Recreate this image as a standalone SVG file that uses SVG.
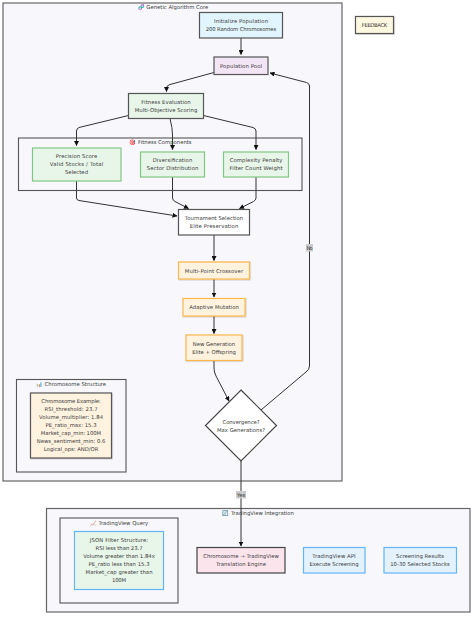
<svg xmlns="http://www.w3.org/2000/svg" width="474" height="617" viewBox="0 0 474 617">
<style>
text{font-family:"DejaVu Sans",sans-serif;font-size:5.3px;fill:#3a3a3a;text-anchor:middle}
.cl{fill:#f8f8fc;stroke:#666;stroke-width:1.2}
.sub{fill:none;stroke:#555;stroke-width:1.1}
.n{stroke-width:1.2}
.gr{fill:#e8f5e9;stroke:#555}
.lg{fill:#e8f5e9;stroke:#81c784}
.or{fill:#fff3e0;stroke:#ffb74d}
.bl{fill:#e3f2fd;stroke:#64b5f6}
.e{fill:none;stroke:#333;stroke-width:1}
.el{fill:#ccc;stroke:none}
</style>
<defs>
<marker id="a" viewBox="0 0 10 10" refX="9" refY="5" markerWidth="5" markerHeight="5" orient="auto"><path d="M0 0L10 5L0 10z" fill="#111"/></marker>
<filter id="s" x="-10%" y="-10%" width="125%" height="125%"><feDropShadow dx=".6" dy=".6" stdDeviation=".5" flood-opacity=".25"/></filter>
</defs>
<g id="cluster-core"><rect class="cl" x="3" y="3" width="339" height="478"/><text x="173" y="9">🧬 Genetic Algorithm Core</text></g>
<g id="cluster-tv"><rect class="cl" x="46.500" y="508.500" width="423.500" height="103.500"/><text x="258" y="514.500">🔄 TradingView Integration</text></g>
<g id="cluster-fitness"><rect class="sub" x="18.500" y="138" width="283.500" height="52.500"/><text x="160.500" y="144">🎯 Fitness Components</text></g>
<g id="cluster-chromosome"><rect class="sub" x="16.500" y="379.500" width="109.500" height="92.500"/><text x="71" y="385.500">📊 Chromosome Structure</text></g>
<g id="cluster-query"><rect class="sub" x="60" y="518" width="118" height="85"/><text x="119" y="524.500">📈 TradingView Query</text></g>
<g id="connectors">
<path class="e" marker-end="url(#a)" d="M241 38V54.500"/>
<path class="e" marker-end="url(#a)" d="M214 72.500L170 84.500Q166.500 85.500 166.500 88V91.500"/>
<path class="e" marker-end="url(#a)" d="M128.500 115.500L79 127.500Q76.500 128.500 76.500 131V145.500"/>
<path class="e" marker-end="url(#a)" d="M170 118.500Q172.500 128 172.500 135V149.500"/>
<path class="e" marker-end="url(#a)" d="M203.500 115.500L253 127.500Q256 128.500 256 131V149.500"/>
<path class="e" marker-end="url(#a)" d="M76.500 181V198Q76.500 200 79 200.500L177 216"/>
<path class="e" marker-end="url(#a)" d="M172.500 177V198Q172.500 200 175 201.500L188.500 208.500"/>
<path class="e" marker-end="url(#a)" d="M256 177V198Q256 200 253.500 201.500L239.500 208.500"/>
<path class="e" marker-end="url(#a)" d="M214 235V260.500"/>
<path class="e" marker-end="url(#a)" d="M214 279V297"/>
<path class="e" marker-end="url(#a)" d="M214 316V333.500"/>
<path class="e" marker-end="url(#a)" d="M214 360.500V368Q214 372 216 376L229 401"/>
<path class="e" marker-end="url(#a)" d="M261 410L306 372Q309.500 369.500 309.500 366V86Q309.500 83.500 306.500 82.500L270 73"/>
<path class="e" marker-end="url(#a)" d="M241 461V546"/>
</g>
<g id="edge-no"><rect class="el" x="306" y="244" width="7" height="7.500"/><text x="309.500" y="250" textLength="6">No</text></g>
<g id="edge-yes"><rect class="el" x="236" y="491" width="10" height="7.500"/><text x="241" y="497" textLength="8.500">Yes</text></g>
<g id="init"><rect class="n" x="199.500" y="12.500" width="83" height="25.500" fill="#e1f5fe" stroke="#555"/><text x="241" y="23" textLength="54">Initialize Population</text><text x="241" y="31" textLength="70.300">200 Random Chromosomes</text></g>
<g id="pool"><rect class="n" x="214" y="57" width="54" height="17.500" fill="#f3e5f5" stroke="#555"/><text x="241" y="67.500" textLength="42">Population Pool</text></g>
<g id="fitness"><rect class="n gr" x="128.500" y="93.500" width="75" height="25"/><text x="166" y="104" textLength="49.300">Fitness Evaluation</text><text x="166" y="112" textLength="62.700">Multi-Objective Scoring</text></g>
<g id="precision"><rect class="n lg" x="32.500" y="148" width="88.500" height="33"/><text x="76.500" y="158" textLength="41.300">Precision Score</text><text x="76.500" y="166" textLength="53.300">Valid Stocks / Total</text><text x="76.500" y="174" textLength="23">Selected</text></g>
<g id="diversification"><rect class="n lg" x="140.500" y="152" width="64" height="25"/><text x="172.500" y="162" textLength="39.700">Diversification</text><text x="172.500" y="170" textLength="51.700">Sector Distribution</text></g>
<g id="complexity"><rect class="n lg" x="223.500" y="152" width="65" height="25"/><text x="256" y="162" textLength="52.700">Complexity Penalty</text><text x="256" y="170" textLength="53">Filter Count Weight</text></g>
<g id="tournament"><rect class="n" x="178.500" y="209.500" width="71" height="25.500" fill="#fff" stroke="#555"/><text x="214" y="220" textLength="58.300">Tournament Selection</text><text x="214" y="228" textLength="48.700">Elite Preservation</text></g>
<g id="crossover"><rect class="n or" x="178.500" y="262" width="71" height="17" filter="url(#s)"/><text x="214" y="272.500" textLength="58.300">Multi-Point Crossover</text></g>
<g id="mutation"><rect class="n or" x="183" y="298.500" width="62" height="17.500" filter="url(#s)"/><text x="214" y="309" textLength="49.700">Adaptive Mutation</text></g>
<g id="newgen"><rect class="n or" x="186" y="335" width="56" height="25.500" filter="url(#s)"/><text x="214" y="345.500" textLength="42.300">New Generation</text><text x="214" y="353.500" textLength="43.700">Elite + Offspring</text></g>
<g id="convergence"><path class="n" d="M241 390L276.500 425.500L241 461L205.500 425.500Z" fill="#fff" stroke="#444"/><text x="241" y="423.500" textLength="37">Convergence?</text><text x="241" y="431.500" textLength="48">Max Generations?</text></g>
<g id="chromosome"><rect class="n" x="30.500" y="393" width="81" height="65" fill="#fff3e0" stroke="#555" filter="url(#s)"/><text x="71" y="403" textLength="59.300">Chromosome Example:</text><text x="71" y="411" textLength="53">RSI_threshold: 23.7</text><text x="71" y="419" textLength="64">Volume_multiplier: 1.84</text><text x="71" y="427" textLength="51">PE_ratio_max: 15.3</text><text x="71" y="435" textLength="60.300">Market_cap_min: 100M</text><text x="71" y="443" textLength="68.700">News_sentiment_min: 0.6</text><text x="71" y="451" textLength="54.700">Logical_ops: AND/OR</text></g>
<g id="json"><rect class="n" x="74.500" y="531.500" width="89" height="58" fill="#e8f5e9" stroke="#64b5f6"/><text x="119" y="542" textLength="58.300">JSON Filter Structure:</text><text x="119" y="550" textLength="47">RSI less than 23.7</text><text x="119" y="558" textLength="71.700">Volume greater than 1.84x</text><text x="119" y="566" textLength="61">PE_ratio less than 15.3</text><text x="119" y="574" textLength="67">Market_cap greater than</text><text x="119" y="582" textLength="14">100M</text></g>
<g id="translation"><rect class="n" x="197" y="547.500" width="88" height="25.500" fill="#fce4ec" stroke="#444"/><text x="241" y="558" textLength="75.700">Chromosome → TradingView</text><text x="241" y="566" textLength="50">Translation Engine</text></g>
<g id="api"><rect class="n bl" x="303.500" y="547.500" width="61.500" height="25.500"/><text x="334" y="558" textLength="43.300">TradingView API</text><text x="334" y="566" textLength="49">Execute Screening</text></g>
<g id="results"><rect class="n bl" x="384" y="547.500" width="72.500" height="25.500"/><text x="420" y="558" textLength="48">Screening Results</text><text x="420" y="566" textLength="59.700">10-30 Selected Stocks</text></g>
<g id="feedback"><rect class="n" x="355.500" y="16.500" width="38" height="17" fill="#fff8e1" stroke="#555" filter="url(#s)"/><text x="374.500" y="27" textLength="25.300">FEEDBACK</text></g>
</svg>
